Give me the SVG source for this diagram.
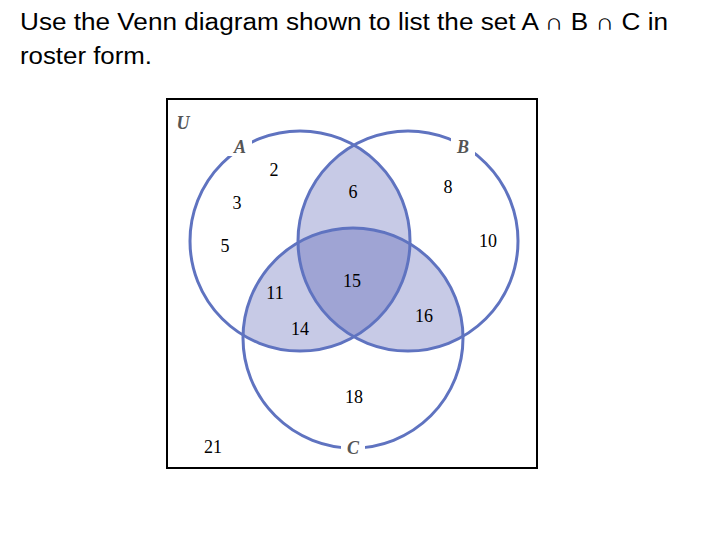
<svg xmlns="http://www.w3.org/2000/svg" width="702" height="534" viewBox="0 0 702 534">
<style>
.q{font-family:"Liberation Sans",Arial,sans-serif;font-size:23px;fill:#000}
.n{font-family:"Liberation Serif","Times New Roman",serif;font-size:18px;fill:#000;text-anchor:middle}
.l{font-family:"Liberation Serif","Times New Roman",serif;font-size:18px;font-weight:bold;font-style:italic;fill:#555;text-anchor:middle}
.c{fill:none;stroke:#5f73c0;stroke-width:3}
</style>
<defs>
<clipPath id="cA"><circle cx="300" cy="241" r="110"/></clipPath>
<clipPath id="cB"><circle cx="408" cy="241" r="110"/></clipPath>
<clipPath id="cC"><circle cx="353" cy="338" r="110"/></clipPath>
</defs>
<rect width="702" height="534" fill="#fff"/>
<text class="q" x="20" y="30" textLength="648" lengthAdjust="spacingAndGlyphs">Use the Venn diagram shown to list the set A ∩ B ∩ C in</text>
<text class="q" x="20" y="64" textLength="132" lengthAdjust="spacingAndGlyphs">roster form.</text>
<rect x="167" y="99" width="370" height="369" fill="#fff" stroke="#000" stroke-width="2"/>
<g id="shading">
<g clip-path="url(#cA)"><circle cx="408" cy="241" r="110" fill="#c7cae6"/><circle cx="353" cy="338" r="110" fill="#c7cae6"/></g>
<g clip-path="url(#cB)"><circle cx="353" cy="338" r="110" fill="#c7cae6"/></g>
<g clip-path="url(#cA)"><g clip-path="url(#cB)"><circle cx="353" cy="338" r="110" fill="#9fa4d4"/></g></g>
</g>
<g id="A"><circle class="c" cx="300" cy="241" r="110"/><rect x="226" y="134" width="26" height="22" fill="#fff"/><text class="l" x="240" y="153">A</text></g>
<g id="B"><circle class="c" cx="408" cy="241" r="110"/><rect x="451" y="134" width="24" height="22" fill="#fff"/><text class="l" x="463" y="153">B</text></g>
<g id="C"><circle class="c" cx="353" cy="338" r="110"/><rect x="341" y="437" width="24" height="22" fill="#fff"/><text class="l" x="353" y="454">C</text></g>
<text class="l" x="183" y="129">U</text>
<g id="labels">
<text class="n" x="274" y="176">2</text>
<text class="n" x="237" y="209">3</text>
<text class="n" x="225" y="252">5</text>
<text class="n" x="353" y="198">6</text>
<text class="n" x="448" y="193">8</text>
<text class="n" x="488" y="247">10</text>
<text class="n" x="275" y="299">11</text>
<text class="n" x="352" y="287">15</text>
<text class="n" x="300" y="335">14</text>
<text class="n" x="424" y="322">16</text>
<text class="n" x="354" y="403">18</text>
<text class="n" x="213" y="453">21</text>
</g>
</svg>
